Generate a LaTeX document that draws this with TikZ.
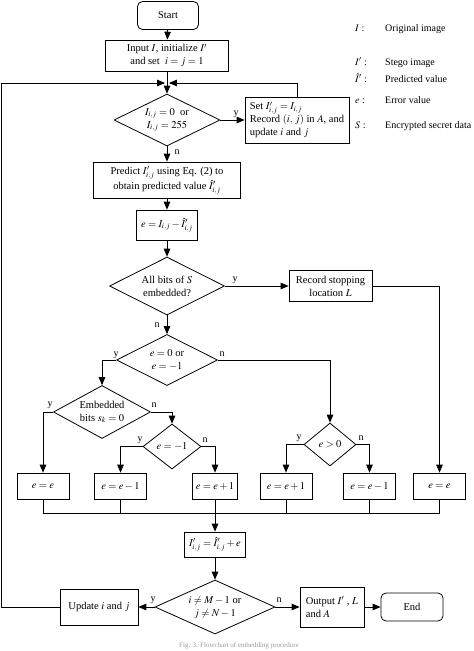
\documentclass[tikz,border=0pt]{standalone}
\usepackage{mathptmx}
\usepackage{fontspec}
\setmainfont{Liberation Serif}
\usetikzlibrary{shapes.geometric,arrows}

\begin{document}
\begin{tikzpicture}[x=1pt,y=-1pt,
    font=\fontsize{10.5}{13}\selectfont,
    box/.style={draw,line width=0.8pt,inner sep=0pt,align=center},
    term/.style={box,rounded corners=5pt},
    decision/.style={draw,line width=0.8pt,diamond,inner sep=0pt,
        align=center,shape aspect=2},
    lab/.style={font=\fontsize{10}{12}\selectfont,inner sep=0pt},
    legend/.style={anchor=base west,inner sep=0pt,font=\fontsize{10}{12}\selectfont},
    line/.style={line width=0.8pt},
    >=triangle 45]
\useasboundingbox (0,0) rectangle (474,651);

% main column
\node[term,minimum width=61pt,minimum height=28pt] (start) at (168,15.5) {Start};
\node[box,minimum width=123pt,minimum height=31pt] (input) at (167,55.5)
    {Input $I$, initialize $I'$\\and set \ $i=j=1$};
\coordinate (merge) at (167,83);
\node[decision,minimum width=106pt,minimum height=52pt] (ckpix) at (167,120)
    {$I_{i,j}=0$ \ or\\$I_{i,j}=255$};
\node[box,minimum width=104pt,minimum height=46pt,align=left] (setpix) at (297,120)
    {Set $I'_{i,j}=I_{i,j}$\\Record $(i,\,j)$ in $A$, and\\update $i$ and $j$};
\node[box,minimum width=147pt,minimum height=36pt] (predict) at (167,180)
    {Predict $I'_{i,j}$ using Eq. (2) to\\obtain predicted value $\hat{I}'_{i,j}$};
\node[box,minimum width=61pt,minimum height=30pt] (err) at (167,225)
    {$e=I_{i,j}-\hat{I}'_{i,j}$};
\node[decision,minimum width=115pt,minimum height=58pt] (allbits) at (167,286)
    {All bits of $S$\\embedded?};
\node[box,minimum width=83pt,minimum height=31pt] (stop) at (330.5,286)
    {Record stopping\\location $L$};

% branches
\node[decision,minimum width=101pt,minimum height=51pt] (ezero) at (167,360)
    {$e=0$ or\\$e=-1$};
\node[decision,minimum width=97pt,minimum height=53pt,shape aspect=1.8] (bitzero) at (102,412)
    {Embedded\\bits $s_k=0$};
\node[decision,minimum width=58pt,minimum height=45pt,shape aspect=1.3] (eneg) at (172,446.5)
    {$e=-1$};
\node[decision,minimum width=52pt,minimum height=43pt,shape aspect=1.2] (epos) at (330,444.5)
    {$e>0$};

\node[box,minimum width=52pt,minimum height=26pt] (keep) at (43,486) {$e=e$};
\node[box,minimum width=52pt,minimum height=26pt] (dec1) at (120.5,486) {$e=e-1$};
\node[box,minimum width=45pt,minimum height=26pt] (inc1) at (215,486) {$e=e+1$};
\node[box,minimum width=52pt,minimum height=26pt] (inc2) at (286,486) {$e=e+1$};
\node[box,minimum width=52pt,minimum height=26pt] (dec2) at (369.5,486) {$e=e-1$};
\node[box,minimum width=52pt,minimum height=26pt] (keep2) at (439.5,486) {$e=e$};
\coordinate (join) at (215,513);

% bottom
\node[box,minimum width=61pt,minimum height=25pt] (embed) at (215,544.5)
    {$I'_{i,j}=\hat{I}'_{i,j}+e$};
\node[decision,minimum width=120pt,minimum height=54pt] (last) at (215,607)
    {$i\neq M-1$ or\\$j\neq N-1$};
\node[box,minimum width=78pt,minimum height=36pt] (update) at (99,607)
    {Update $i$ and $j$};
\node[box,minimum width=64pt,minimum height=40pt,align=left] (output) at (332,607)
    {Output $I'$ , $L$\\and $A$};
\node[term,minimum width=62pt,minimum height=28pt] (finish) at (412,607) {End};
\coordinate (loopx) at (1.5,83);

% connectors
\draw[line,->] (start) -- (input);
\draw[line] (input) -- (merge);
\draw[line,->] (merge) -- (ckpix);
\draw[line,->] (ckpix) -- (setpix);
\draw[line,->,shorten >=2pt] (setpix.north) |- (merge);
\draw[line,->] (ckpix) -- (predict);
\draw[line,->] (predict) -- (err);
\draw[line,->] (err) -- (allbits);
\draw[line,->] (allbits) -- (stop);
\draw[line,->] (stop.east) -| (keep2.north);
\draw[line,->] (allbits) -- (ezero);
\draw[line,->] (ezero.west) -| (bitzero.north);
\draw[line,->] (ezero.east) -| (epos.north);
\draw[line,->] (bitzero.west) -| (keep.north);
\draw[line,->] (bitzero.east) -| (eneg.north);
\draw[line,->] (eneg.west) -| (dec1.north);
\draw[line,->] (eneg.east) -| (inc1.north);
\draw[line,->] (epos.west) -| (inc2.north);
\draw[line,->] (epos.east) -| (dec2.north);
\foreach \b in {keep,dec1,inc1,inc2,dec2,keep2}
    \draw[line] (\b.south) -- (\b.south |- join);
\draw[line] (keep.south |- join) -- (keep2.south |- join);
\draw[line,->] (join) -- (embed);
\draw[line,->] (embed) -- (last);
\draw[line,->] (last) -- (update);
\draw[line,->] (last) -- (output);
\draw[line,->] (output) -- (finish);
\draw[line,->,shorten >=2pt] (update.west) -| (loopx) -- (merge);

% y/n labels
\node[lab] (y1) at (236,114) {y};
\node[lab] (n1) at (177,152) {n};
\node[lab] (y2) at (235,280) {y};
\node[lab] (n2) at (157,325) {n};
\node[lab] (y3) at (116,355) {y};
\node[lab] (n3) at (222,354) {n};
\node[lab] (y4) at (50,405) {y};
\node[lab] (n4) at (154,405) {n};
\node[lab] (y5) at (140,440) {y};
\node[lab] (n5) at (205,440) {n};
\node[lab] (y6) at (299,438) {y};
\node[lab] (n6) at (361,438) {n};
\node[lab] (y7) at (153,600) {y};
\node[lab] (n7) at (279,600) {n};

% legend
\foreach \yy/\sym/\txt [count=\k] in {31/$I$/Original image,
        65/$I'$/Stego image, 82/$\hat{I}'$/Predicted value,
        103/$e$/Error value, 128/$S$/Encrypted secret data}{
    \node[legend] (sym\k) at (355,\yy) {\sym\ :};
    \node[legend] (txt\k) at (385,\yy) {\txt};
}

\node[font=\fontsize{7}{8}\selectfont,text=black!40] (caption) at (239,646)
    {Fig. 3. Flowchart of embedding procedure};
\end{tikzpicture}
\end{document}
